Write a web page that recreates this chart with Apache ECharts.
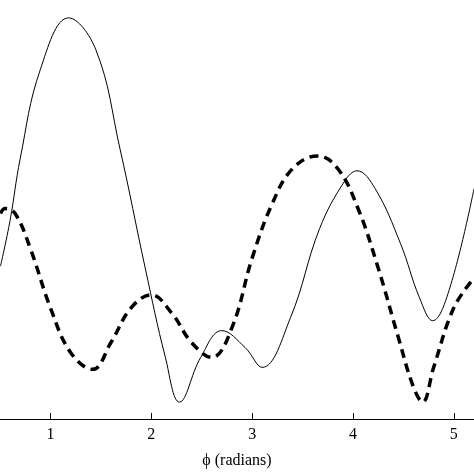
<!DOCTYPE html>
<html><head><meta charset="utf-8">
<script src="https://cdn.jsdelivr.net/npm/echarts@6/dist/echarts.min.js"></script>
<style>html,body{margin:0;background:#fff}#c{width:474px;height:474px}</style>
</head><body><div id="c"></div>
<script>
const ticks = [1, 2, 3, 4, 5];
const solidX = [0.505, 0.6, 0.7, 0.9, 1.18, 1.45, 1.69, 1.94, 2.14, 2.28, 2.49, 2.7, 2.93, 3.1, 3.38, 3.67, 3.92, 4.04, 4.22, 4.47, 4.66, 4.79, 4.96, 5.2];
const solidY = [154, 200, 262, 352, 404, 372, 272, 152, 62, 17, 62, 89, 72, 52, 102, 192, 240, 250, 232, 177, 122, 99, 132, 232];
const dashX = [0.505, 0.55, 0.65, 0.8, 1.0, 1.2, 1.42, 1.6, 1.8, 2.0, 2.2, 2.4, 2.6, 2.8, 3.0, 3.2, 3.4, 3.65, 3.85, 4.05, 4.25, 4.45, 4.6, 4.69, 4.8, 5.0, 5.2];
const dashY = [207, 212, 207, 172, 112, 67, 50, 77, 112, 125, 107, 77, 62, 92, 162, 217, 252, 265, 252, 212, 152, 82, 32, 17, 52, 112, 142];

const chart = echarts.init(document.getElementById('c'));
const zip = (xs, ys) => xs.map((x, i) => [x, ys[i]]);
chart.setOption({
  animation: false,
  grid: { left: 0, right: 0, top: 0, bottom: 52 },
  xAxis: {
    type: 'value', min: 0.5, max: 5.2,
    name: 'ϕ (radians)', nameLocation: 'middle', nameGap: 34,
    nameTextStyle: { fontFamily: 'Liberation Serif', fontSize: 16, color: '#000' },
    axisLine: { lineStyle: { color: '#000' } },
    axisTick: { inside: true, length: 6, customValues: ticks, lineStyle: { color: '#000' } },
    axisLabel: { customValues: ticks, fontFamily: 'Liberation Serif', fontSize: 16, color: '#000', margin: 8 },
    splitLine: { show: false }
  },
  yAxis: { type: 'value', min: 0, max: 422, show: false },
  series: [
    { type: 'line', smooth: 0.4, symbol: 'none', data: zip(solidX, solidY),
      lineStyle: { color: '#000', width: 1 } },
    { type: 'line', smooth: 0.4, symbol: 'none', data: zip(dashX, dashY),
      lineStyle: { color: '#000', width: 3.5, type: [9, 6] } }
  ]
});
</script></body></html>
